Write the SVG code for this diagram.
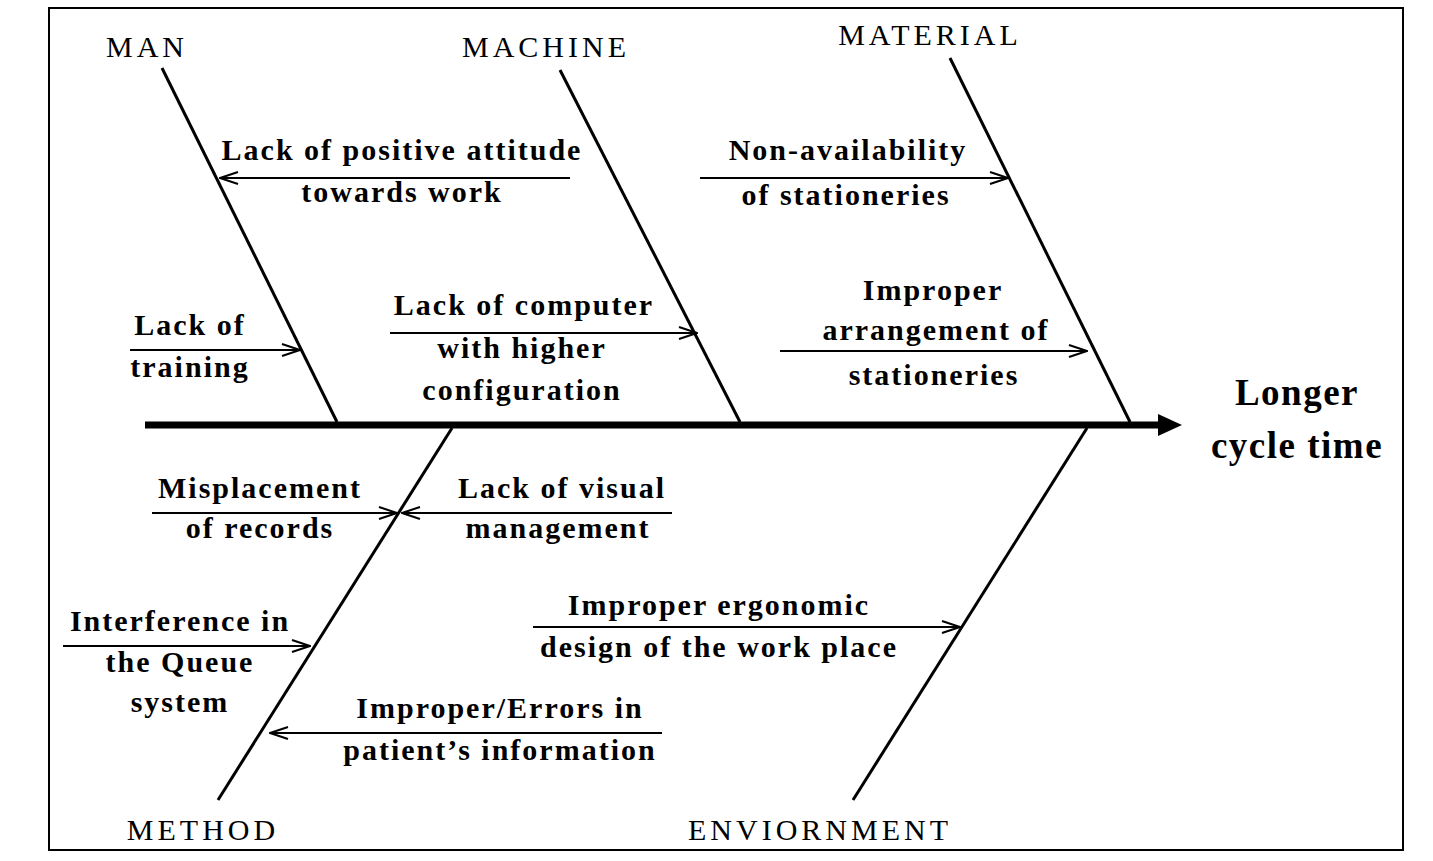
<svg xmlns="http://www.w3.org/2000/svg" width="1433" height="861" viewBox="0 0 1433 861">
<style>
.t{font-family:"Liberation Serif","Times New Roman",serif;font-weight:bold;font-size:30px;letter-spacing:2px;text-anchor:middle;fill:#000}
.c{font-family:"Liberation Serif","Times New Roman",serif;font-size:30px;letter-spacing:4px;text-anchor:middle;fill:#000}
.b{stroke:#000;stroke-width:3;fill:none}
.a{stroke:#000;stroke-width:2;fill:none;marker-end:url(#ah)}
</style>
<defs>
<marker id="ah" viewBox="0 0 20 14" refX="19" refY="7" markerWidth="20" markerHeight="14" markerUnits="userSpaceOnUse" orient="auto"><path d="M1,1 L19,7 L1,13" fill="none" stroke="#000" stroke-width="2"/></marker>
<marker id="big" viewBox="0 0 24 22" refX="2" refY="11" markerWidth="24" markerHeight="22" markerUnits="userSpaceOnUse" orient="auto"><path d="M0,0 L24,11 L0,22 Z" fill="#000"/></marker>
</defs>
<rect x="0" y="0" width="1433" height="861" fill="#fff"/>
<rect x="49" y="8" width="1354" height="842" fill="none" stroke="#000" stroke-width="2"/>
<g id="spine"><line x1="145" y1="425" x2="1160" y2="425" stroke="#000" stroke-width="7" marker-end="url(#big)"/>
<text class="t" style="font-size:37px;letter-spacing:1.5px" x="1297" y="405">Longer</text><text class="t" style="font-size:37px;letter-spacing:1.5px" x="1297" y="458">cycle time</text></g>
<g id="man"><line class="b" x1="162" y1="68" x2="337" y2="422"/><text class="c" x="147" y="57">MAN</text></g>
<g id="machine"><line class="b" x1="560" y1="70" x2="740" y2="422"/><text class="c" x="546" y="57">MACHINE</text></g>
<g id="material"><line class="b" x1="950" y1="58" x2="1130" y2="422"/><text class="c" x="930" y="45">MATERIAL</text></g>
<g id="method"><line class="b" x1="452" y1="428" x2="218" y2="800"/><text class="c" x="203" y="840">METHOD</text></g>
<g id="environment"><line class="b" x1="1087" y1="428" x2="853" y2="800"/><text class="c" x="820" y="840">ENVIORNMENT</text></g>
<g id="connectors">
<line class="a" x1="570" y1="178" x2="220" y2="178"/>
<line class="a" x1="700" y1="178" x2="1008" y2="178"/>
<line class="a" x1="130" y1="350" x2="300" y2="350"/>
<line class="a" x1="390" y1="333" x2="697" y2="333"/>
<line class="a" x1="780" y1="351" x2="1087" y2="351"/>
<line class="a" x1="152" y1="513" x2="397" y2="513"/>
<line class="a" x1="672" y1="513" x2="402" y2="513"/>
<line class="a" x1="63" y1="646" x2="310" y2="646"/>
<line class="a" x1="533" y1="627" x2="960" y2="627"/>
<line class="a" x1="662" y1="733" x2="270" y2="733"/>
</g>
<g id="labels">
<text class="t" x="402" y="160">Lack of positive attitude</text><text class="t" x="402" y="202">towards work</text>
<text class="t" x="848" y="160">Non-availability</text><text class="t" x="846" y="205">of stationeries</text>
<text class="t" x="190" y="335">Lack of</text><text class="t" x="190" y="377">training</text>
<text class="t" x="524" y="315">Lack of computer</text><text class="t" x="522" y="358">with higher</text><text class="t" x="522" y="400">configuration</text>
<text class="t" x="933" y="300">Improper</text><text class="t" x="936" y="340">arrangement of</text><text class="t" x="934" y="385">stationeries</text>
<text class="t" x="260" y="498">Misplacement</text><text class="t" x="260" y="538">of records</text>
<text class="t" x="562" y="498">Lack of visual</text><text class="t" x="558" y="538">management</text>
<text class="t" x="180" y="631">Interference in</text><text class="t" x="180" y="672">the Queue</text><text class="t" x="180" y="712">system</text>
<text class="t" x="719" y="615">Improper ergonomic</text><text class="t" x="719" y="657">design of the work place</text>
<text class="t" x="500" y="718">Improper/Errors in</text><text class="t" x="500" y="760">patient’s information</text>
</g>
</svg>
